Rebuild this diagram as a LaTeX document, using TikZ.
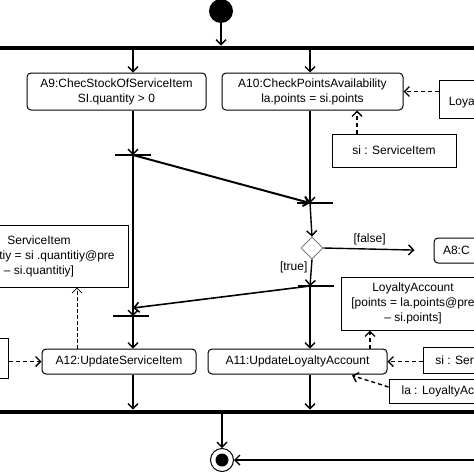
\documentclass[tikz,border=0pt]{standalone}
\usepackage{fontspec}
\setmainfont{Liberation Sans}
\usepackage{tikz}
\usetikzlibrary{shapes.geometric, arrows.meta, positioning, calc}

\begin{document}
\begin{tikzpicture}[
  x=1pt, y=-1pt,
  font=\fontsize{12}{15}\selectfont,
  action/.style={rectangle, rounded corners=4pt, draw, line width=1pt,
                 minimum height=25pt, inner sep=0pt, align=center},
  objbox/.style={rectangle, draw, line width=1pt, inner sep=0pt, align=center},
  bar/.style={rectangle, fill=black, inner sep=0pt, minimum height=4.5pt,
              minimum width=480pt},
  syncbar/.style={rectangle, fill=black, inner sep=0pt, minimum height=2pt,
                  minimum width=36pt},
  decision/.style={diamond, draw=black!60, line width=0.8pt, minimum width=22pt,
                   minimum height=22pt, inner sep=0pt},
  flow/.style={-{Straight Barb[length=5pt, width=10pt]}, line width=1.4pt},
  objflow/.style={flow, dash pattern=on 4pt off 3pt},
  thinflow/.style={-{Straight Barb[length=5pt, width=10pt]}, line width=0.8pt,
                   dash pattern=on 4pt off 2pt}
]
\useasboundingbox (0,0) rectangle (474,474);
\clip (0,0) rectangle (474,474);

\coordinate (colL) at (133,0);
\coordinate (colR) at (310,0);

\node[circle, fill=black, minimum size=24pt, inner sep=0pt] (start) at (221,11) {};
\node[bar] (forkbar) at (237,48) {};
\node[action, minimum width=179pt, minimum height=37pt] (a9) at (116.5,91.5)
  {A9:ChecStockOfServiceItem\\SI.quantity > 0};
\node[action, minimum width=181pt, minimum height=37pt] (a10) at (312.5,91.5)
  {A10:CheckPointsAvailability\\la.points = si.points};
\node[objbox, minimum width=101pt, minimum height=38pt] (laTop) at (489.5,99)
  {\mbox{}\\LoyaltyAccount};
\node[objbox, minimum width=124pt, minimum height=33pt] (siTop) at (394,150.5)
  {si : ServiceItem};
\node[syncbar] (sync1) at (133,155) {};
\node[syncbar] (sync2) at (315,203) {};
\node[decision] (choice) at (312,248) {};
\node[action, minimum width=106pt, inner xsep=9pt, text width=88pt, align=left]
  (a8) at (487,250.5) {A8:C};
\node[objbox, minimum width=178pt, minimum height=62pt] (siNote) at (39,256)
  {ServiceItem\\{}[quantitiy = si .quantitiy@pre\\– si.quantitiy]};
\node[syncbar] (sync4) at (316,286) {};
\node[objbox, minimum width=144pt, minimum height=53pt] (loyNote) at (413,303.5)
  {LoyaltyAccount\\{}[points = la.points@pre\\– si.points]};
\node[syncbar] (sync3) at (131,316) {};
\node[objbox, minimum width=38pt, minimum height=40pt] (leftBox) at (-11,358) {};
\node[action, minimum width=154pt] (a12) at (119,361.5) {A12:UpdateServiceItem};
\node[action, minimum width=179pt] (a11) at (297.5,361.5) {A11:UpdateLoyaltyAccount};
\node[objbox, minimum width=108pt, minimum height=26pt] (siRight) at (477,360)
  {si : ServiceItem};
\node[objbox, minimum width=127pt, minimum height=24pt] (laBottom) at (452.5,391)
  {la : LoyaltyAccount};
\node[bar] (joinbar) at (237,412) {};
\node[circle, draw, line width=1pt, minimum size=23pt, inner sep=0pt,
      path picture={\fill[black] (path picture bounding box.center) circle (6.5pt);}]
  (final) at (222,460) {};
\coordinate (offright) at (480,460);

\draw[flow] (start) -- (start |- forkbar.north);
\draw[flow] (forkbar.south -| colL) -- (a9.north -| colL);
\draw[flow] (forkbar.south -| colR) -- (a10.north -| colR);
\draw[flow] (a9.south -| colL) -- (sync1.center -| colL);
\draw[flow] (sync1.center -| colL) -- (sync3.center -| colL);
\draw[flow, line width=2pt] (sync1.center -| colL) -- (sync2.center -| colR);
\draw[flow] (a10.south -| colR) -- (sync2.center -| colR);
\draw[flow] (sync2.center -| colR) -- (choice.north);
\draw[flow, shorten >=19pt] (choice.east) -- node[above, pos=0.42] {[false]} (a8.west);
\draw[flow] (choice.south) -- node[left, pos=0.3] {[true]} (sync4.center -| colR);
\draw[flow] (sync4.center -| colR) -- (a11.north -| colR);
\draw[flow, line width=1.6pt] (sync4.center -| colR) -- ([yshift=8pt]sync3.center -| colL);
\draw[flow] (sync3.center -| colL) -- (a12.north -| colL);
\draw[flow] (a12.south -| colL) -- (joinbar.north -| colL);
\draw[flow] (a11.south -| colR) -- (joinbar.north -| colR);
\draw[flow] (joinbar.south -| final) -- (final.north);
\draw[flow] (offright) -- (final.east);

\draw[objflow] (laTop.west |- a10.east) -- (a10.east);
\draw[objflow] ([xshift=-37pt]siTop.north) -- ([xshift=-37pt]siTop.north |- a10.south);
\draw[objflow] (leftBox.east |- a12.west) -- (a12.west);
\draw[thinflow] ([xshift=-42pt]a12.north) -- ([xshift=-42pt]a12.north |- siNote.south);
\draw[objflow] ([xshift=72.5pt]a11.north) -- ([xshift=72.5pt]a11.north |- loyNote.south);
\draw[objflow] (siRight.west |- a11.east) -- (a11.east);
\draw[objflow] ([yshift=4pt]laBottom.west) -- ([xshift=54.5pt, yshift=-1pt]a11.south);
\end{tikzpicture}
\end{document}
